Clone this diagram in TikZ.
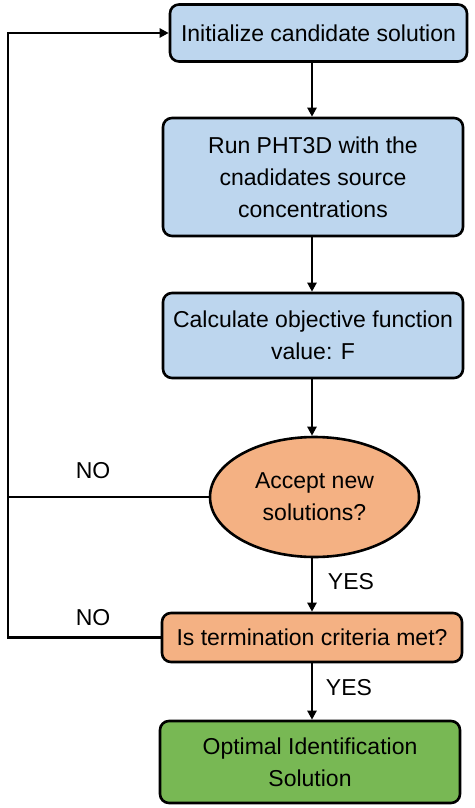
\documentclass[tikz,border=0pt]{standalone}
\usepackage{fontspec}
\setmainfont{Liberation Sans}
\usetikzlibrary{shapes.geometric,arrows.meta}

\begin{document}
\begin{tikzpicture}[x=1pt,y=-1pt,
    font=\fontsize{23}{32}\selectfont,
    box/.style={draw, line width=2.6pt, rounded corners=9pt, align=center, minimum width=300pt, inner sep=0pt},
    decision/.style={draw, ellipse, line width=2.6pt, align=center, inner sep=0pt},
    arr/.style={line width=2.6pt, -{Triangle[length=9pt,width=9pt]}},
    link/.style={line width=2.6pt}]
    % Define colors
    \definecolor{stepblue}{RGB}{189,214,238}
    \definecolor{steporange}{RGB}{244,177,131}
    \definecolor{stepgreen}{RGB}{120,184,84}

    \def\colx{312}
    \def\loopx{8}

    \useasboundingbox (0,0) rectangle (474,808);

    % Process boxes
    \node[box, fill=stepblue, minimum width=297pt, minimum height=57pt] (init) at (318.5,33) {Initialize candidate solution};
    \node[box, fill=stepblue, minimum height=118pt] (run) at (313,177) {Run PHT3D with the\\cnadidates source\\concentrations};
    \node[box, fill=stepblue, minimum height=85pt] (calc) at (313,335.5) {Calculate objective function\\value: F};

    % Decisions
    \node[decision, fill=steporange, minimum width=209pt, minimum height=120pt] (accept) at (314.5,497) {Accept new\\solutions?};
    \node[box, fill=steporange, minimum height=49pt] (term) at (\colx,637.5) {Is termination criteria met?};

    % Result
    \node[box, fill=stepgreen, minimum height=82pt] (opt) at (310,762) {Optimal Identification\\Solution};

    % Left return line
    \coordinate (back) at (\loopx,0);

    % Draw arrows
    \draw[arr] (init.south -| \colx,0) -- (\colx,0 |- run.north);
    \draw[arr] (run.south -| \colx,0) -- (\colx,0 |- calc.north);
    \draw[arr] (calc.south -| \colx,0) -- (\colx,0 |- accept.north);
    \draw[arr] (accept.south -| \colx,0) -- (term.north);
    \draw[arr] (term.south) -- (\colx,0 |- opt.north);
    \draw[link] (accept.west) -- (accept.west -| back);
    \draw[arr] (term.west) -- (term.west -| back) |- (init.west);

    % Labels
    \node (no1) at (93,471) {NO};
    \node (no2) at (93,618) {NO};
    \node (yes1) at (351,582) {YES};
    \node (yes2) at (349,688) {YES};
\end{tikzpicture}
\end{document}
